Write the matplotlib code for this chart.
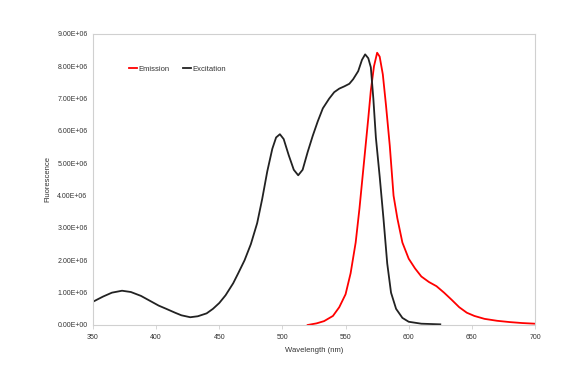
import matplotlib
matplotlib.use("Agg")
import matplotlib.pyplot as plt

# Excitation spectrum (nm, fluorescence in units of 1e6)
exWave = [350, 358, 365, 373, 380, 388, 395, 402, 408, 415, 420, 427, 433, 440, 445,
          450, 455, 461, 465, 470, 475, 480, 484, 488, 492, 495, 498, 501, 505, 509,
          512.5, 516, 520, 524, 528, 532, 537, 541, 545, 549, 553, 556, 560, 563,
          565.5, 568, 570, 572, 574, 577, 580, 583, 586, 590, 595, 600, 610, 625]
exVal = [0.72, 0.88, 1.00, 1.06, 1.02, 0.90, 0.75, 0.60, 0.50, 0.38, 0.30, 0.24, 0.27,
         0.36, 0.50, 0.68, 0.92, 1.29, 1.60, 2.00, 2.50, 3.15, 3.90, 4.75, 5.45, 5.80,
         5.90, 5.75, 5.25, 4.80, 4.63, 4.80, 5.35, 5.85, 6.30, 6.70, 7.00, 7.20, 7.31,
         7.38, 7.46, 7.60, 7.85, 8.20, 8.37, 8.25, 7.97, 7.00, 5.80, 4.60, 3.30, 1.90,
         1.00, 0.50, 0.22, 0.10, 0.04, 0.02]

# Emission spectrum
emWave = [520, 527, 533, 540, 545, 550, 554, 558, 561, 565, 568, 570, 572.5, 575, 577,
          579.5, 582, 585, 588, 591, 595, 600, 605, 610, 616, 622, 628, 634, 640, 646,
          652, 660, 670, 680, 690, 700]
emVal = [0.00, 0.05, 0.12, 0.28, 0.55, 0.95, 1.60, 2.55, 3.60, 5.20, 6.40, 7.25, 8.00,
         8.42, 8.30, 7.75, 6.80, 5.55, 4.00, 3.30, 2.55, 2.05, 1.75, 1.50, 1.33, 1.20,
         1.00, 0.78, 0.55, 0.38, 0.28, 0.19, 0.13, 0.09, 0.06, 0.04]

xTicks = [350, 400, 450, 500, 550, 600, 650, 700]
yTicks = [0, 1, 2, 3, 4, 5, 6, 7, 8, 9]

plt.rcParams['font.family'] = ['Liberation Sans', 'DejaVu Sans']

fig = plt.figure(figsize=(5.79, 3.65), dpi=100)
ax = fig.add_axes([0.1606, 0.1096, 0.7634, 0.7973])

ax.plot(emWave, [v * 1e6 for v in emVal], color='#ff0000', lw=1.3, label='Emission')
ax.plot(exWave, [v * 1e6 for v in exVal], color='#222222', lw=1.3, label='Excitation')

ax.set_xlim(350, 700)
ax.set_ylim(0, 9e6)
ax.set_xticks(xTicks)
ax.set_xticklabels([str(t) for t in xTicks])
ax.set_yticks([t * 1e6 for t in yTicks])
ax.set_yticklabels(['%.2fE+%02d' % ((t, 6) if t else (0, 0)) for t in yTicks])

for s in ax.spines.values():
    s.set_color('#d0d0d0')
    s.set_linewidth(0.8)
ax.tick_params(colors='#d0d0d0', labelcolor='#333333', labelsize=5, length=3, width=0.6)
ax.tick_params(axis='y', length=0, pad=4)

ax.set_xlabel('Wavelength (nm)', fontsize=5.5, color='#333333', labelpad=4)
ax.set_ylabel('Fluorescence', fontsize=5.5, color='#333333', labelpad=4)

ax.legend(loc='upper left', bbox_to_anchor=(0.065, 0.915), ncol=2, frameon=False,
          fontsize=5.5, handlelength=1.1, handletextpad=0.15, columnspacing=1.8,
          labelcolor='#333333')

fig.savefig('out.png', dpi=100)
